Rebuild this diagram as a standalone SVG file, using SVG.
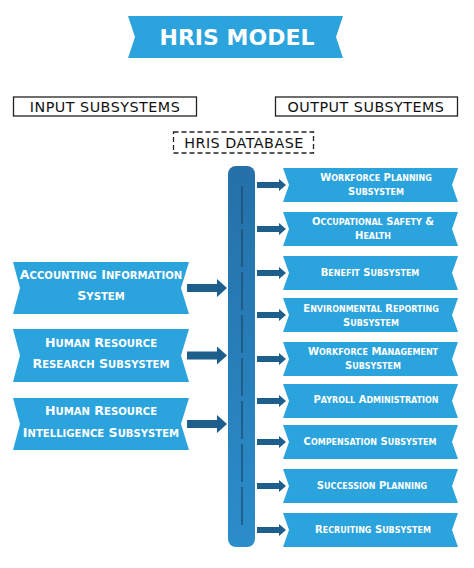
<svg xmlns="http://www.w3.org/2000/svg" width="474" height="568" viewBox="0 0 474 568">
<style>
.rib{fill:#2ba3dd}
.arr{fill:#1c5f8c}
.hdr{fill:#fff;stroke:#222;stroke-width:1.3}
.ht{font-family:"DejaVu Sans",sans-serif;font-size:14.3px;letter-spacing:0.5px;fill:#111;text-anchor:middle}
.it{font-family:"DejaVu Sans",sans-serif;font-weight:bold;font-size:12.6px;fill:#fff;text-anchor:middle}
.ot{font-family:"DejaVu Sans",sans-serif;font-weight:bold;font-size:10px;fill:#fff;text-anchor:middle}
.s{font-size:0.8em}
</style>
<defs>
<linearGradient id="bar" x1="0" y1="0" x2="0" y2="1">
<stop offset="0" stop-color="#2570a8"/>
<stop offset="1" stop-color="#2b8dca"/>
</linearGradient>
</defs>
<rect width="474" height="568" fill="#fff"/>
<g id="title">
<path class="rib" d="M128,16 L343,16 L336,37 L343,58 L128,58 L135,37 Z"/>
<text x="237" y="45" font-family="DejaVu Sans, sans-serif" font-weight="bold" font-size="22" fill="#fff" text-anchor="middle">HRIS MODEL</text>
</g>
<g id="input-header">
<rect class="hdr" x="13.5" y="97" width="183" height="19"/>
<text class="ht" x="105" y="111.5">INPUT SUBSYSTEMS</text>
</g>
<g id="output-header">
<rect class="hdr" x="275.5" y="97" width="182" height="19"/>
<text class="ht" x="366" y="111.5">OUTPUT SUBSYTEMS</text>
</g>
<g id="hris-database">
<rect x="173.5" y="132" width="140" height="21" fill="#fff" stroke="#222" stroke-width="1.3" stroke-dasharray="5 3"/>
<text class="ht" x="244" y="148">HRIS DATABASE</text>
</g>
<g id="database-bar">
<rect x="228" y="166" width="27" height="381" rx="8" fill="url(#bar)"/>
<line x1="242" y1="186" x2="242" y2="528" stroke="#1a4b70" stroke-width="1.3" stroke-dasharray="38 5"/>
</g>
<g id="in1">
<path class="rib" d="M13,262 L189,262 L181,288 L189,314 L13,314 L20,288 Z"/>
<text class="it" x="101" y="279">A<tspan class="s">CCOUNTING</tspan> I<tspan class="s">NFORMATION</tspan></text>
<text class="it" x="101" y="300">S<tspan class="s">YSTEM</tspan></text>
</g>
<g id="in2">
<path class="rib" d="M13,329 L189,329 L181,355.5 L189,382 L13,382 L20,355.5 Z"/>
<text class="it" x="101" y="347">H<tspan class="s">UMAN</tspan> R<tspan class="s">ESOURCE</tspan></text>
<text class="it" x="101" y="368">R<tspan class="s">ESEARCH</tspan> S<tspan class="s">UBSYSTEM</tspan></text>
</g>
<g id="in3">
<path class="rib" d="M13,398 L189,398 L181,424 L189,450 L13,450 L20,424 Z"/>
<text class="it" x="101" y="415">H<tspan class="s">UMAN</tspan> R<tspan class="s">ESOURCE</tspan></text>
<text class="it" x="101" y="437">I<tspan class="s">NTELLIGENCE</tspan> S<tspan class="s">UBSYSTEM</tspan></text>
</g>
<g id="out1">
<path class="rib" d="M283,168 L458,168 L452,185 L458,202 L283,202 L289,185 Z"/>
<text class="ot" x="376" y="181">W<tspan class="s">ORKFORCE</tspan> P<tspan class="s">LANNING</tspan></text>
<text class="ot" x="376" y="195">S<tspan class="s">UBSYSTEM</tspan></text>
</g>
<g id="out2">
<path class="rib" d="M283,212 L458,212 L452,229 L458,246 L283,246 L289,229 Z"/>
<text class="ot" x="373" y="225">O<tspan class="s">CCUPATIONAL</tspan> S<tspan class="s">AFETY</tspan> &amp;</text>
<text class="ot" x="373" y="239">H<tspan class="s">EALTH</tspan></text>
</g>
<g id="out3">
<path class="rib" d="M283,256 L458,256 L452,273 L458,290 L283,290 L289,273 Z"/>
<text class="ot" x="370" y="276">B<tspan class="s">ENEFIT</tspan> S<tspan class="s">UBSYSTEM</tspan></text>
</g>
<g id="out4">
<path class="rib" d="M283,298 L458,298 L452,315 L458,332 L283,332 L289,315 Z"/>
<text class="ot" x="371" y="312">E<tspan class="s">NVIRONMENTAL</tspan> R<tspan class="s">EPORTING</tspan></text>
<text class="ot" x="371" y="326">S<tspan class="s">UBSYSTEM</tspan></text>
</g>
<g id="out5">
<path class="rib" d="M283,342 L458,342 L452,359 L458,376 L283,376 L289,359 Z"/>
<text class="ot" x="373" y="355">W<tspan class="s">ORKFORCE</tspan> M<tspan class="s">ANAGEMENT</tspan></text>
<text class="ot" x="373" y="369">S<tspan class="s">UBSYSTEM</tspan></text>
</g>
<g id="out6">
<path class="rib" d="M283,384 L458,384 L452,401 L458,418 L283,418 L289,401 Z"/>
<text class="ot" x="376" y="403">P<tspan class="s">AYROLL</tspan> A<tspan class="s">DMINISTRATION</tspan></text>
</g>
<g id="out7">
<path class="rib" d="M283,425 L458,425 L452,442 L458,459 L283,459 L289,442 Z"/>
<text class="ot" x="370" y="445">C<tspan class="s">OMPENSATION</tspan> S<tspan class="s">UBSYSTEM</tspan></text>
</g>
<g id="out8">
<path class="rib" d="M283,469 L458,469 L452,486 L458,503 L283,503 L289,486 Z"/>
<text class="ot" x="372" y="489">S<tspan class="s">UCCESSION</tspan> P<tspan class="s">LANNING</tspan></text>
</g>
<g id="out9">
<path class="rib" d="M283,513 L458,513 L452,530 L458,547 L283,547 L289,530 Z"/>
<text class="ot" x="373" y="533">R<tspan class="s">ECRUITING</tspan> S<tspan class="s">UBSYSTEM</tspan></text>
</g>
<g id="connectors">
<path class="arr" d="M187,284 L217,284 L217,279 L227,288 L217,297 L217,292 L187,292 Z"/>
<path class="arr" d="M187,351.5 L217,351.5 L217,346.5 L227,355.5 L217,364.5 L217,359.5 L187,359.5 Z"/>
<path class="arr" d="M187,420 L217,420 L217,415 L227,424 L217,433 L217,428 L187,428 Z"/>
<path class="arr" d="M257,182 L279,182 L279,179 L286,185 L279,191 L279,188 L257,188 Z"/>
<path class="arr" d="M257,226 L279,226 L279,223 L286,229 L279,235 L279,232 L257,232 Z"/>
<path class="arr" d="M257,270 L279,270 L279,267 L286,273 L279,279 L279,276 L257,276 Z"/>
<path class="arr" d="M257,312 L279,312 L279,309 L286,315 L279,321 L279,318 L257,318 Z"/>
<path class="arr" d="M257,356 L279,356 L279,353 L286,359 L279,365 L279,362 L257,362 Z"/>
<path class="arr" d="M257,398 L279,398 L279,395 L286,401 L279,407 L279,404 L257,404 Z"/>
<path class="arr" d="M257,439 L279,439 L279,436 L286,442 L279,448 L279,445 L257,445 Z"/>
<path class="arr" d="M257,483 L279,483 L279,480 L286,486 L279,492 L279,489 L257,489 Z"/>
<path class="arr" d="M257,527 L279,527 L279,524 L286,530 L279,536 L279,533 L257,533 Z"/>
</g>
</svg>
